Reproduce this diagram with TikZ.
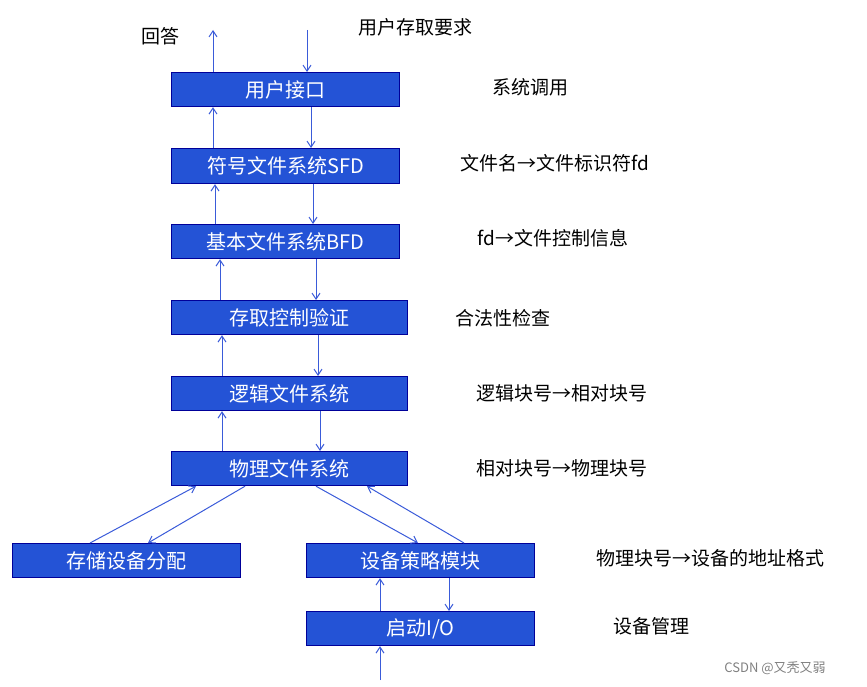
\documentclass[tikz,border=0pt]{standalone}
\usepackage{fontspec}
\setmainfont{Noto Sans CJK SC}
\usetikzlibrary{arrows.meta}
\begin{document}
\begin{tikzpicture}[x=1pt,y=-1pt,
  box/.style={draw=blue!60!black,line width=1.2pt,fill={rgb,255:red,36;green,83;blue,214},text=white,font=\fontsize{20}{24}\selectfont,inner sep=0pt,anchor=north west},
  lab/.style={font=\fontsize{19}{23}\selectfont,text=black},
  arr/.style={draw={rgb,255:red,58;green,91;blue,217},line width=1pt,-{Straight Barb[length=6pt,width=8pt]}}]
\useasboundingbox (0,0) rectangle (867,687);
\node[box,minimum width=228,minimum height=34] (b1) at (171,72) {用户接口};
\node[box,minimum width=228,minimum height=35] (b2) at (171,148) {符号文件系统SFD};
\node[box,minimum width=228,minimum height=34] (b3) at (171,224) {基本文件系统BFD};
\node[box,minimum width=236,minimum height=34] (b4) at (171,300) {存取控制验证};
\node[box,minimum width=236,minimum height=34] (b5) at (171,376) {逻辑文件系统};
\node[box,minimum width=236,minimum height=34] (b6) at (171,451) {物理文件系统};
\node[box,minimum width=228,minimum height=34] (b7) at (12,543) {存储设备分配};
\node[box,minimum width=228,minimum height=34] (b8) at (306,543) {设备策略模块};
\node[box,minimum width=228,minimum height=34] (b9) at (306,611) {启动I/O};
\coordinate (tA) at (213,30);
\coordinate (tB) at (307,30);
\coordinate (bot) at (380,680);
\draw[arr] (b1.north -| tA) -- (tA);
\draw[arr] (tB) -- (b1.north -| tB);
\draw[arr] (b2.north -| 213,0) -- (b1.south -| 213,0);
\draw[arr] (b1.south -| 311,0) -- (b2.north -| 311,0);
\draw[arr] (b3.north -| 215,0) -- (b2.south -| 215,0);
\draw[arr] (b2.south -| 313,0) -- (b3.north -| 313,0);
\draw[arr] (b4.north -| 220,0) -- (b3.south -| 220,0);
\draw[arr] (b3.south -| 316,0) -- (b4.north -| 316,0);
\draw[arr] (b5.north -| 222,0) -- (b4.south -| 222,0);
\draw[arr] (b4.south -| 318,0) -- (b5.north -| 318,0);
\draw[arr] (b6.north -| 222,0) -- (b5.south -| 222,0);
\draw[arr] (b5.south -| 320,0) -- (b6.north -| 320,0);
\draw[arr] (b7.north -| 90,0) -- (b6.south -| 196,0);
\draw[arr] (b6.south -| 245,0) -- (b7.north -| 148,0);
\draw[arr] (b6.south -| 316,0) -- (b8.north -| 418,0);
\draw[arr] (b8.north -| 464,0) -- (b6.south -| 367,0);
\draw[arr] (b9.north -| 380,0) -- (b8.south -| 380,0);
\draw[arr] (b8.south -| 449,0) -- (b9.north -| 449,0);
\draw[arr] (bot) -- (b9.south -| bot);
\node[lab] (l0) at (160,36) {回答};
\node[lab] (l1) at (415,27) {用户存取要求};
\node[lab] (l2) at (530,87) {系统调用};
\node[lab] (l3) at (555,163) {文件名→文件标识符fd};
\node[lab] (l4) at (553,238) {fd→文件控制信息};
\node[lab] (l5) at (503,318) {合法性检查};
\node[lab] (l6) at (562,393) {逻辑块号→相对块号};
\node[lab] (l7) at (562,468) {相对块号→物理块号};
\node[lab] (l8) at (710,558) {物理块号→设备的地址格式};
\node[lab] (l9) at (651,626) {设备管理};
\node[font=\fontsize{13}{15}\selectfont,text=gray] (wm) at (775,668) {CSDN @又秃又弱};
\end{tikzpicture}
\end{document}
